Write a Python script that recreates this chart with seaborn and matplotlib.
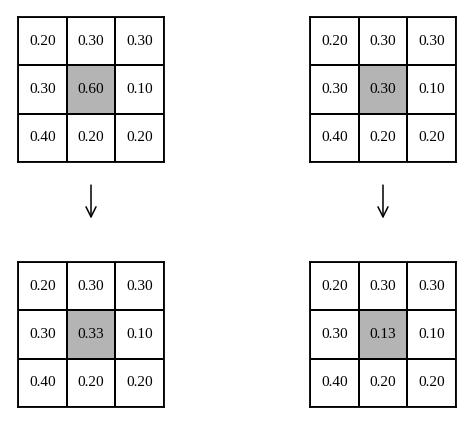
import numpy as np
import seaborn as sns
import matplotlib.pyplot as plt
from matplotlib.colors import ListedColormap
from matplotlib.patches import FancyArrowPatch

# grid values (row by row), center cell is highlighted
grid_top_left = [[0.20, 0.30, 0.30], [0.30, 0.60, 0.10], [0.40, 0.20, 0.20]]
grid_top_right = [[0.20, 0.30, 0.30], [0.30, 0.30, 0.10], [0.40, 0.20, 0.20]]
grid_bottom_left = [[0.20, 0.30, 0.30], [0.30, 0.33, 0.10], [0.40, 0.20, 0.20]]
grid_bottom_right = [[0.20, 0.30, 0.30], [0.30, 0.13, 0.10], [0.40, 0.20, 0.20]]

highlight = np.zeros((3, 3))
highlight[1, 1] = 1
cmap = ListedColormap(["white", "#b4b4b4"])

fig = plt.figure(figsize=(4.74, 4.24), dpi=100)

# left, bottom, width, height in figure fractions
boxes = [
    (grid_top_left, [0.038, 0.618, 0.308, 0.342]),
    (grid_top_right, [0.654, 0.618, 0.308, 0.342]),
    (grid_bottom_left, [0.038, 0.040, 0.308, 0.342]),
    (grid_bottom_right, [0.654, 0.040, 0.308, 0.342]),
]

for vals, pos in boxes:
    ax = fig.add_axes(pos)
    sns.heatmap(highlight, cmap=cmap, vmin=0, vmax=1, cbar=False,
                annot=np.array(vals), fmt=".2f", linewidths=1.3, linecolor="black",
                annot_kws={"color": "black", "fontsize": 11, "family": "Liberation Serif"},
                xticklabels=False, yticklabels=False, ax=ax)
    for s in ax.spines.values():
        s.set_visible(True)
        s.set_linewidth(1.3)
        s.set_color("black")

for x in [0.192, 0.808]:
    fig.patches.append(FancyArrowPatch(
        (x, 0.570), (x, 0.478), transform=fig.transFigure, mutation_scale=12,
        arrowstyle="->,head_length=0.6,head_width=0.3", lw=1.1, color="black"))

fig.savefig("out.png", dpi=100)
